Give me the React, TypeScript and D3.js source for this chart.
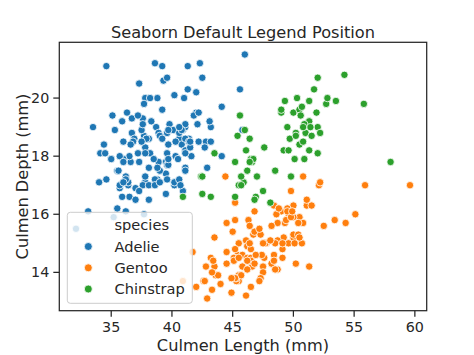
import React from "react";
import * as d3 from "d3";

const species = ["Adelie", "Gentoo", "Chinstrap"];
const colors = ["#1f77b4", "#ff7f0e", "#2ca02c"];
const xTicks = [35, 40, 45, 50, 55, 60];
const yTicks = [14, 16, 18, 20];

// [culmen length, culmen depth]
const adelie: [number, number][] = [
  [39.1,18.7],[39.5,17.4],[40.3,18],[36.7,19.3],[39.3,20.6],[38.9,17.8],[39.2,19.6],[34.1,18.1],[42,20.2],[37.8,17.1],
  [37.8,17.3],[41.1,17.6],[38.6,21.2],[34.6,21.1],[36.6,17.8],[38.7,19],[42.5,20.7],[34.4,18.4],[46,21.5],[37.8,18.3],
  [37.7,18.7],[35.9,19.2],[38.2,18.1],[38.8,17.2],[35.3,18.9],[40.6,18.6],[40.5,17.9],[37.9,18.6],[40.5,18.9],[39.5,16.7],
  [37.2,18.1],[39.5,17.8],[40.9,18.9],[36.4,17],[39.2,21.1],[38.8,20],[42.2,18.5],[37.6,19.3],[39.8,19.1],[36.5,18],
  [40.8,18.4],[36,18.5],[44.1,19.7],[37,16.9],[39.6,18.8],[41.1,19],[37.5,18.9],[36,17.9],[42.3,21.2],[39.6,17.7],
  [40.1,18.9],[35,17.9],[42,19.5],[34.5,18.1],[41.4,18.6],[39,17.5],[40.6,18.8],[36.5,16.6],[37.6,19.1],[35.7,16.9],
  [41.3,21.1],[37.6,17],[41.1,18.2],[36.4,17.1],[41.6,18],[35.5,16.2],[41.1,19.1],[35.9,16.6],[41.8,19.4],[33.5,19],
  [39.7,18.4],[39.6,17.2],[45.8,18.9],[35.5,17.5],[42.8,18.5],[40.9,16.8],[37.2,19.4],[36.2,16.1],[42.1,19.1],[34.6,17.2],
  [42.9,17.6],[36.7,18.8],[35.1,19.4],[37.3,17.8],[41.3,20.3],[36.3,19.5],[36.9,18.6],[38.3,19.2],[38.9,18.8],[35.7,18],
  [41.1,18.1],[34,17.1],[39.6,18.1],[36.2,17.3],[40.8,18.9],[38.1,18.6],[40.3,18.5],[33.1,16.1],[43.2,18.5],[35,17.9],
  [41,20],[37.7,16],[37.8,20],[37.9,18.6],[39.7,18.9],[38.6,17.2],[38.2,20],[38.1,17],[43.2,19],[38.1,16.5],
  [45.6,20.3],[39.7,17.7],[42.2,19.5],[39.6,20.7],[42.7,18.3],[38.6,17],[37.3,20.5],[35.7,17],[41.1,18.6],[36.2,17.2],
  [37.7,19.8],[40.2,17],[41.4,18.5],[35.2,15.9],[40.6,19],[38.8,17.6],[41.5,18.3],[39,17.1],[44.1,18],[38.5,17.9],
  [43.1,19.2],[36.8,18.5],[37.5,18.5],[38.1,17.6],[41.1,17.5],[35.6,17.5],[40.2,20.1],[37,16.5],[39.7,17.9],[40.2,17.1],
  [40.6,17.2],[32.1,15.5],[40.7,17],[37.3,16.8],[39,18.7],[39.2,18.6],[36.6,18.4],[36,17.8],[37.8,18.1],[36,17.1],
  [41.5,18.5]
];

const gentoo: [number, number][] = [
  [46.1,13.2],[50,16.3],[48.7,14.1],[50,15.2],[47.6,14.5],[46.5,13.5],[45.4,14.6],[46.7,15.3],[43.3,13.4],[46.8,15.4],
  [40.9,13.7],[49,16.1],[45.5,13.7],[48.4,14.6],[45.8,14.6],[49.3,15.7],[42,13.5],[49.2,15.2],[46.2,14.5],[48.7,15.1],
  [50.2,14.3],[45.1,14.5],[46.5,14.5],[46.3,15.8],[42.9,13.1],[46.1,15.1],[44.5,14.3],[47.8,15],[48.2,14.3],[50,15.3],
  [47.3,15.3],[42.8,14.2],[45.1,14.5],[59.6,17],[49.1,14.8],[48.4,16.3],[42.6,13.7],[44.4,17.3],[44,13.6],[48.7,15.7],
  [42.7,13.7],[49.6,16],[45.3,13.7],[49.6,15],[50.5,15.9],[43.6,13.9],[45.5,13.9],[50.5,15.9],[44.9,13.3],[45.2,15.8],
  [46.6,14.2],[48.5,14.1],[45.1,14.4],[50.1,15],[46.5,14.4],[45,15.4],[43.8,13.9],[45.5,15],[43.2,14.5],[50.4,15.3],
  [45.3,13.8],[46.2,14.9],[45.7,13.9],[54.3,15.7],[45.8,14.2],[49.8,16.8],[46.2,14.4],[49.5,16.2],[43.5,14.2],[50.7,15],
  [47.7,15],[46.4,15.6],[48.2,15.6],[46.5,14.8],[46.4,15],[48.6,16],[47.5,14.2],[51.1,16.3],[45.2,13.8],[45.2,16.4],
  [49.1,14.5],[52.5,15.6],[47.4,14.6],[50,15.9],[44.9,13.8],[50.8,17.3],[43.4,14.4],[51.3,14.2],[47.5,14],[52.1,17],
  [47.5,15],[52.2,17.1],[45.5,14.5],[49.5,16.1],[44.5,14.7],[50.8,15.7],[49.4,15.8],[46.9,14.6],[48.4,14.4],[51.1,16.5],
  [48.5,15],[55.9,17],[47.2,15.5],[49.1,15],[47.3,13.8],[46.8,16.1],[41.7,14.7],[53.4,15.8],[43.3,14],[48.1,15.1],
  [50.5,15.2],[49.8,15.9],[43.5,15.2],[51.5,16.3],[46.2,14.1],[55.1,16],[44.5,15.7],[48.8,16.2],[47.2,13.7],[46.8,14.3],
  [50.4,15.7],[45.2,14.8],[49.9,16.1]
];

const chinstrap: [number, number][] = [
  [46.5,17.9],[50,19.5],[51.3,19.2],[45.4,18.7],[52.7,19.8],[45.2,17.8],[46.1,18.2],[51.3,18.2],[46,18.9],[51.3,19.9],
  [46.6,17.8],[51.7,20.3],[47,17.3],[52,18.1],[45.9,17.1],[50.5,19.6],[50.3,20],[58,17.8],[46.4,18.6],[49.2,18.2],
  [42.4,17.3],[48.5,17.5],[43.2,16.6],[50.6,19.4],[46.7,17.9],[52,19],[50.5,18.4],[49.5,19],[46.4,17.8],[52.8,20],
  [40.9,16.6],[54.2,20.8],[42.5,16.7],[51,18.8],[49.7,18.6],[47.5,16.8],[47.6,18.3],[52,20.7],[46.9,16.6],[53.5,19.9],
  [49,19.5],[46.2,17.5],[50.9,19.1],[45.5,17],[50.9,17.9],[50.8,18.5],[50.1,17.9],[49,19.6],[51.5,18.7],[49.8,17.3],
  [48.1,16.4],[51.4,19],[45.7,17.3],[50.7,19.7],[42.5,17.3],[52.2,18.8],[45.2,16.6],[49.3,19.9],[50.2,18.8],[45.6,19.4],
  [51.9,19.5],[46.8,16.5],[45.7,17],[55.8,19.8],[43.5,18.1],[49.6,18.2],[50.8,19],[50.2,18.7]
];

const seriesData = [adelie, gentoo, chinstrap];

const W = 474, H = 355;
const L = 59.3, R = 426.7, T = 42.3, B = 310.7;
const FONT = "'DejaVu Sans', sans-serif";
const TXT = "#262626";

export default function App() {
  const x = d3.scaleLinear().domain([30.725, 60.975]).range([L, R]);
  const y = d3.scaleLinear().domain([12.68, 21.92]).range([B, T]);

  const legX = 67.3, legY = 212.3, legW = 125, legH = 91;
  const rowY = [224.5, 246.5, 267.8, 289];

  return (
    <svg width={W} height={H} style={{ position: "absolute", left: 0, top: 0, background: "#fff" }} fontFamily={FONT}>
      <rect x={0} y={0} width={W} height={H} fill="#fff" />
      {seriesData.map((pts, si) =>
        pts.map((p, i) => (
          <circle key={`${si}-${i}`} cx={x(p[0])} cy={y(p[1])} r={3.7} fill={colors[si]} stroke="#fff" strokeWidth={0.8} />
        ))
      )}
      {/* legend */}
      <rect x={legX} y={legY} width={legW} height={legH} rx={3} ry={3} fill="#fff" fillOpacity={0.8} stroke="#cccccc" strokeWidth={1} />
      <text x={114.5} y={rowY[0]} dy="0.35em" fontSize={14.6} fill={TXT}>species</text>
      {species.map((s, i) => (
        <g key={s}>
          <circle cx={88.3} cy={rowY[i + 1]} r={4} fill={colors[i]} stroke="#fff" strokeWidth={0.8} />
          <text x={114.5} y={rowY[i + 1]} dy="0.35em" fontSize={14.6} fill={TXT}>{s}</text>
        </g>
      ))}
      {/* frame */}
      <rect x={L} y={T} width={R - L} height={B - T} fill="none" stroke={TXT} strokeWidth={1.25} />
      {/* x ticks */}
      {xTicks.map((t) => (
        <g key={t}>
          <line x1={x(t)} x2={x(t)} y1={B} y2={B + 6} stroke={TXT} strokeWidth={1.25} />
          <text x={x(t)} y={B + 16} dy="0.35em" textAnchor="middle" fontSize={14.3} fill={TXT}>{t}</text>
        </g>
      ))}
      {yTicks.map((t) => (
        <g key={t}>
          <line x1={L - 6} x2={L} y1={y(t)} y2={y(t)} stroke={TXT} strokeWidth={1.25} />
          <text x={L - 10} y={y(t)} dy="0.35em" textAnchor="end" fontSize={14.3} fill={TXT}>{t}</text>
        </g>
      ))}
      <text x={(L + R) / 2} y={345} dy="0.35em" textAnchor="middle" fontSize={16.2} fill={TXT}>Culmen Length (mm)</text>
      <text transform={`translate(22,${(T + B) / 2}) rotate(-90)`} dy="0.35em" textAnchor="middle" fontSize={16.2} fill={TXT}>Culmen Depth (mm)</text>
      <text x={(L + R) / 2} y={32.5} dy="0.35em" textAnchor="middle" fontSize={16.2} fill={TXT}>Seaborn Default Legend Position</text>
    </svg>
  );
}
